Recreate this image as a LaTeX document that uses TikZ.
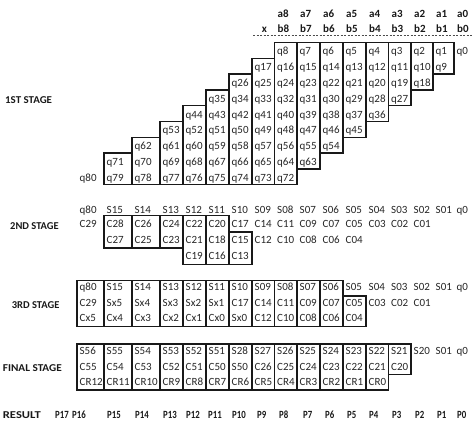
\documentclass[tikz,border=0pt]{standalone}
\usepackage{graphicx}
\usepackage{fontspec}
\setmainfont{Carlito}
\newfontfamily\narrowfont{Carlito}[FakeStretch=0.8]
\begin{document}
\begin{tikzpicture}[x=1pt,y=-1pt,
  txt/.style={anchor=base west,inner sep=0pt,font=\fontsize{11}{12}\selectfont,text=black!85},
  btxt/.style={anchor=base west,inner sep=0pt,font=\fontsize{11}{12}\selectfont\bfseries,text=black!90},
  rtxt/.style={anchor=base west,inner sep=0pt,font=\fontsize{11}{12}\narrowfont\bfseries,text=black!90},
  lbl/.style={anchor=base west,inner sep=0pt,font=\fontsize{10.5}{12}\selectfont\bfseries,text=black!90},
  boxline/.style={draw=black!90,line width=1.45pt},
  dashline/.style={draw=black!70,line width=0.9pt,dash pattern=on 2pt off 1.5pt}]
\useasboundingbox (0,0) rectangle (474,428);
\def\cols{{454,433,411,388.5,366,343,320,297,274.5,252,229,206,183,160,132,104,77}}
% ---------- header ----------
\foreach \c in {0,...,8}{
  \pgfmathsetmacro\xx{\cols[\c]+3}
  \node[btxt] (a\c) at (\xx,17.3) {a\c};
  \node[btxt] (b\c) at (\xx,32.7) {b\c};
}
\node[btxt] (hx) at (261.7,32.7) {x};
\coordinate (dl) at (253,35.5);
\coordinate (dr) at (472,35.5);
\draw[dashline] (dl) -- (dr);
% ---------- stage 1 ----------
\node[lbl] (l1) at (5,103.5) {\scalebox{1.04}[1]{1ST STAGE}};
\foreach \j in {0,...,8}{
  \foreach \i in {0,...,8}{
    \pgfmathtruncatemacro\n{9*\j+\i}
    \pgfmathtruncatemacro\c{\j+\i}
    \pgfmathsetmacro\xx{\cols[\c]+2.5}
    \pgfmathsetmacro\yy{42.5+(\j+0.5)*15.8+4.5}
    \node[txt] (q\n) at (\xx,\yy) {q\n};
  }
}
\foreach \c in {1,...,15}{
  \pgfmathtruncatemacro\ja{max(0,\c-8)}
  \pgfmathtruncatemacro\jb{min(8,\c)}
  \pgfmathtruncatemacro\cpr{\c-1}
  \pgfmathsetmacro\xl{\cols[\c]}
  \pgfmathsetmacro\xr{\cols[\cpr]}
  \draw[boxline] (\xl,{42.5+\ja*15.8}) rectangle (\xr,{42.5+(\jb+1)*15.8});
}
% ---------- stage 2 ----------
\node[lbl] (l2) at (10,229) {2ND STAGE};
\foreach \c/\t in {16/q80,15/S15,14/S14,13/S13,12/S12,11/S11,10/S10,9/S09,8/S08,7/S07,6/S06,5/S05,4/S04,3/S03,2/S02,1/S01,0/q0}{
  \pgfmathsetmacro\xx{\cols[\c]+2.5}
  \node[txt] (s2-\c-0) at (\xx,213) {\t};
}
\foreach \r/\lst in {1/{16/C29,15/C28,14/C26,13/C24,12/C22,11/C20,10/C17,9/C14,8/C11,7/C09,6/C07,5/C05,4/C03,3/C02,2/C01},
                     2/{15/C27,14/C25,13/C23,12/C21,11/C18,10/C15,9/C12,8/C10,7/C08,6/C06,5/C04},
                     3/{12/C19,11/C16,10/C13}}{
  \foreach \c/\t in \lst{
    \pgfmathsetmacro\xx{\cols[\c]+2.5}
    \pgfmathsetmacro\yy{215.7+(\r-1)*16.2+11.8}
    \node[txt] (s2-\c-\r) at (\xx,\yy) {\t};
  }
}
\foreach \c/\ra/\rb in {15/1/2,14/1/2,13/1/2,12/1/3,11/1/3,10/2/3}{
  \pgfmathtruncatemacro\cpr{\c-1}
  \pgfmathsetmacro\xl{\cols[\c]}
  \pgfmathsetmacro\xr{\cols[\cpr]}
  \draw[boxline] (\xl,{215.7+(\ra-1)*16.2}) rectangle (\xr,{215.7+\rb*16.2});
}
% ---------- stage 3 ----------
\node[lbl] (l3) at (11.7,308.3) {3RD STAGE};
\foreach \r/\lst in {0/{16/q80,15/S15,14/S14,13/S13,12/S12,11/S11,10/S10,9/S09,8/S08,7/S07,6/S06,5/S05,4/S04,3/S03,2/S02,1/S01,0/q0},
                     1/{16/C29,15/Sx5,14/Sx4,13/Sx3,12/Sx2,11/Sx1,10/C17,9/C14,8/C11,7/C09,6/C07,5/C05,4/C03,3/C02,2/C01},
                     2/{16/Cx5,15/Cx4,14/Cx3,13/Cx2,12/Cx1,11/Cx0,10/Sx0,9/C12,8/C10,7/C08,6/C06,5/C04}}{
  \foreach \c/\t in \lst{
    \pgfmathsetmacro\xx{\cols[\c]+2.5}
    \pgfmathsetmacro\yy{280.7+\r*15.33+10.2}
    \node[txt] (s3-\c-\r) at (\xx,\yy) {\t};
  }
}
\foreach \c/\ra/\rb in {16/0/2,15/0/2,14/0/2,13/0/2,12/0/2,11/0/2,10/0/2,9/0/2,8/0/2,7/0/2,6/0/2,5/1/2}{
  \pgfmathtruncatemacro\cpr{\c-1}
  \pgfmathsetmacro\xl{\cols[\c]}
  \pgfmathsetmacro\xr{\cols[\cpr]}
  \draw[boxline] (\xl,{280.7+\ra*15.33}) rectangle (\xr,{280.7+(\rb+1)*15.33});
}
% ---------- final stage ----------
\node[lbl] (l4) at (2.7,371.7) {\scalebox{1.07}[1]{FINAL STAGE}};
\foreach \r/\lst in {0/{16/S56,15/S55,14/S54,13/S53,12/S52,11/S51,10/S28,9/S27,8/S26,7/S25,6/S24,5/S23,4/S22,3/S21,2/S20,1/S01,0/q0},
                     1/{16/C55,15/C54,14/C53,13/C52,12/C51,11/C50,10/S50,9/C26,8/C25,7/C24,6/C23,5/C22,4/C21,3/C20},
                     2/{16/CR12,15/CR11,14/CR10,13/CR9,12/CR8,11/CR7,10/CR6,9/CR5,8/CR4,7/CR3,6/CR2,5/CR1,4/CR0}}{
  \foreach \c/\t in \lst{
    \pgfmathsetmacro\xx{\cols[\c]+2.5}
    \pgfmathsetmacro\yy{344+\r*15.33+10.7}
    \node[txt] (s4-\c-\r) at (\xx,\yy) {\t};
  }
}
\foreach \c/\ra/\rb in {16/0/2,15/0/2,14/0/2,13/0/2,12/0/2,11/0/2,10/0/2,9/0/2,8/0/2,7/0/2,6/0/2,5/0/2,4/0/2,3/0/1}{
  \pgfmathtruncatemacro\cpr{\c-1}
  \pgfmathsetmacro\xl{\cols[\c]}
  \pgfmathsetmacro\xr{\cols[\cpr]}
  \draw[boxline] (\xl,{344+\ra*15.33}) rectangle (\xr,{344+(\rb+1)*15.33});
}
% ---------- result ----------
\node[lbl] (l5) at (2.7,418.3) {\scalebox{1.2}[1]{RESULT}};
\foreach \x/\t in {55/P17,72/P16,107/P15,135/P14,163/P13,186/P12,208/P11,232/P10,257/P9,279/P8,303/P7,325/P6,347/P5,369/P4,392/P3,415/P2,437/P1,457/P0}{
  \node[rtxt] (r\t) at (\x,418.3) {\t};
}
\end{tikzpicture}
\end{document}
